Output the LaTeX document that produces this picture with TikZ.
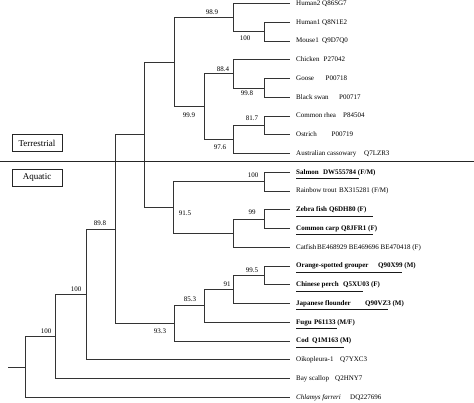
\documentclass[tikz,border=0pt]{standalone}
\usepackage{fontspec}
\setmainfont{Liberation Serif}
\usepackage{tikz}
\usetikzlibrary{positioning,calc}

\newcommand{\taxlabel}[3]{\makebox[#1pt][l]{#2}#3}

\begin{document}
\begin{tikzpicture}[
    x=1pt, y=-1pt,
    branch/.style={draw=black!80, line width=0.7pt},
    taxon/.style={anchor=west, inner xsep=6pt, inner ysep=1pt, text height=5pt, text depth=1.5pt, font=\fontsize{7}{8}\selectfont},
    boldtaxon/.style={taxon, font=\fontsize{7}{8}\selectfont\bfseries},
    boot/.style={inner sep=0pt, font=\fontsize{7}{8}\selectfont},
    cladebox/.style={rectangle, draw=black!85, line width=0.7pt, minimum width=50pt, minimum height=17pt, inner sep=0pt, font=\fontsize{9}{10}\selectfont},
    uline/.style={draw=black!90, line width=0.9pt}
]
\useasboundingbox (0,0) rectangle (474,402);

% terrestrial leaves
\node[taxon] (human2) at (290,3.5) {\taxlabel{26}{Human2}{Q86SG7}};
\node[taxon] (human1) at (290,22.25) {\taxlabel{26}{Human1}{Q8N1E2}};
\node[taxon] (mouse1) at (290,41) {\taxlabel{26}{Mouse1}{Q9D7Q0}};
\node[taxon] (chicken) at (290,59.75) {\taxlabel{27.5}{Chicken}{P27042}};
\node[taxon] (goose) at (290,78.5) {\taxlabel{29.5}{Goose}{P00718}};
\node[taxon] (swan) at (290,97.25) {\taxlabel{43}{Black swan}{P00717}};
\node[taxon] (rhea) at (290,116) {\taxlabel{47}{Common rhea}{P84504}};
\node[taxon] (ostrich) at (290,134.75) {\taxlabel{35.5}{Ostrich}{P00719}};
\node[taxon] (cassowary) at (290,153.5) {\taxlabel{68}{Australian cassowary}{Q7LZR3}};

% aquatic leaves
\node[boldtaxon] (salmon) at (290,172.25) {\taxlabel{27}{Salmon}{DW555784 (F/M)}};
\node[taxon] (trout) at (290,191) {\taxlabel{43}{Rainbow trout}{BX315281 (F/M)}};
\node[boldtaxon] (zebra) at (290,209.75) {\taxlabel{33}{Zebra fish}{Q6DH80 (F)}};
\node[boldtaxon] (carp) at (290,228.5) {\taxlabel{45}{Common carp}{Q8JFR1 (F)}};
\node[taxon] (catfish) at (290,247.25) {\taxlabel{21}{Catfish}{BE468929 BE469696 BE470418 (F)}};
\node[boldtaxon] (grouper) at (290,266) {\taxlabel{82}{Orange-spotted grouper}{Q90X99 (M)}};
\node[boldtaxon] (perch) at (290,284.75) {\taxlabel{47}{Chinese perch}{Q5XU03 (F)}};
\node[boldtaxon] (flounder) at (290,303.5) {\taxlabel{69}{Japanese flounder}{Q90VZ3 (M)}};
\node[boldtaxon] (fugu) at (290,322.25) {\taxlabel{18}{Fugu}{P61133 (M/F)}};
\node[boldtaxon] (cod) at (290,341) {\taxlabel{16}{Cod}{Q1M163 (M)}};
\node[taxon] (oiko) at (290,359.75) {\taxlabel{44}{Oikopleura-1}{Q7YXC3}};
\node[taxon] (scallop) at (290,378.5) {\taxlabel{39}{Bay scallop}{Q2HNY7}};
\node[taxon] (chlamys) at (290,397.25) {\taxlabel{54}{\textit{Chlamys farreri}}{DQ227696}};

% underlines of the sequenced fishes
\draw[uline] ([xshift=6pt,yshift=-1.75pt]salmon.south west) -- ++(63,0);
\draw[uline] ([xshift=6pt,yshift=-1.75pt]zebra.south west) -- ++(77,0);
\draw[uline] ([xshift=6pt,yshift=-1.75pt]carp.south west) -- ++(77,0);
\draw[uline] ([xshift=6pt,yshift=-1.75pt]grouper.south west) -- ++(106,0);
\draw[uline] ([xshift=6pt,yshift=-1.75pt]perch.south west) -- ++(67,0);
\draw[uline] ([xshift=6pt,yshift=-1.75pt]flounder.south west) -- ++(92,0);
\draw[uline] ([xshift=6pt,yshift=-1.75pt]fugu.south west) -- ++(41,0);
\draw[uline] ([xshift=6pt,yshift=-1.75pt]cod.south west) -- ++(48,0);

% inner nodes of the tree
\coordinate (hm) at (264,31.6);
\coordinate (mam) at (233,17.6);
\coordinate (gs) at (264,87.9);
\coordinate (gal) at (233,73.8);
\coordinate (ro) at (264,125.4);
\coordinate (rat) at (233,139.4);
\coordinate (bird) at (204,106.6);
\coordinate (terr) at (174,62.1);
\coordinate (salm) at (264,181.6);
\coordinate (zc) at (264,219.1);
\coordinate (cyp) at (233,233.2);
\coordinate (fishes) at (173,207.4);
\coordinate (tf) at (144,134.8);
\coordinate (gp) at (264,275.4);
\coordinate (perc) at (233,289.4);
\coordinate (pufa) at (204,305.8);
\coordinate (acan) at (174,323.4);
\coordinate (vert) at (115,229.1);
\coordinate (chor) at (86,294.4);
\coordinate (bila) at (55,336.5);
\coordinate (root) at (25,366.9);
\coordinate (stub) at (8,366.9);

% branches
\draw[branch] (stub) -- (root);
\draw[branch] (root) |- (bila);
\draw[branch] (root) |- (chlamys.west);
\draw[branch] (bila) |- (chor);
\draw[branch] (bila) |- (scallop.west);
\draw[branch] (chor) |- (vert);
\draw[branch] (chor) |- (oiko.west);
\draw[branch] (vert) |- (tf);
\draw[branch] (vert) |- (acan);
\draw[branch] (tf) |- (terr);
\draw[branch] (tf) |- (fishes);
\draw[branch] (terr) |- (mam);
\draw[branch] (terr) |- (bird);
\draw[branch] (mam) |- (human2.west);
\draw[branch] (mam) |- (hm);
\draw[branch] (hm) |- (human1.west);
\draw[branch] (hm) |- (mouse1.west);
\draw[branch] (bird) |- (gal);
\draw[branch] (bird) |- (rat);
\draw[branch] (gal) |- (chicken.west);
\draw[branch] (gal) |- (gs);
\draw[branch] (gs) |- (goose.west);
\draw[branch] (gs) |- (swan.west);
\draw[branch] (rat) |- (ro);
\draw[branch] (rat) |- (cassowary.west);
\draw[branch] (ro) |- (rhea.west);
\draw[branch] (ro) |- (ostrich.west);
\draw[branch] (fishes) |- (salm);
\draw[branch] (fishes) |- (cyp);
\draw[branch] (salm) |- (salmon.west);
\draw[branch] (salm) |- (trout.west);
\draw[branch] (cyp) |- (zc);
\draw[branch] (cyp) |- (catfish.west);
\draw[branch] (zc) |- (zebra.west);
\draw[branch] (zc) |- (carp.west);
\draw[branch] (acan) |- (pufa);
\draw[branch] (acan) |- (cod.west);
\draw[branch] (pufa) |- (perc);
\draw[branch] (pufa) |- (fugu.west);
\draw[branch] (perc) |- (gp);
\draw[branch] (perc) |- (flounder.west);
\draw[branch] (gp) |- (grouper.west);
\draw[branch] (gp) |- (perch.west);

% bootstrap values
\node[boot] (b-mam) at (212,12) {98.9};
\node[boot] (b-hm) at (245,38) {100};
\node[boot] (b-gal) at (223,69) {88.4};
\node[boot] (b-gs) at (247,93) {99.8};
\node[boot] (b-ro) at (252,118.5) {81.7};
\node[boot] (b-rat) at (220,147) {97.6};
\node[boot] (b-bird) at (189,115) {99.9};
\node[boot] (b-salm) at (253,175) {100};
\node[boot] (b-zc) at (252,212) {99};
\node[boot] (b-fishes) at (185,213) {91.5};
\node[boot] (b-vert) at (100,223) {89.8};
\node[boot] (b-gp) at (252,270) {99.5};
\node[boot] (b-perc) at (227,284) {91};
\node[boot] (b-pufa) at (190,299) {85.3};
\node[boot] (b-acan) at (160,331) {93.3};
\node[boot] (b-chor) at (76,289) {100};
\node[boot] (b-bila) at (46,331) {100};

% habitat split
\draw[black!85, line width=1pt] (0,161) -- (474,161);
\node[cladebox] (terrestrial) at (37,143) {Terrestrial};
\node[cladebox] (aquatic) at (37,177.5) {Aquatic};
\end{tikzpicture}
\end{document}
